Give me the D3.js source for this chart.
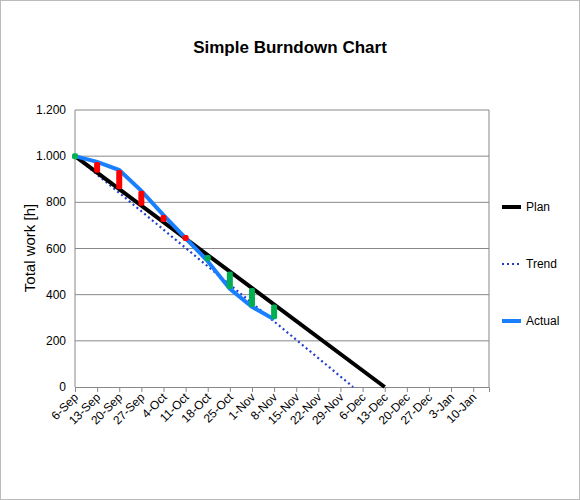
<!DOCTYPE html><html><head><meta charset="utf-8"><script src="https://cdn.jsdelivr.net/npm/d3@7"></script>
<style>body{margin:0;background:#fff}text{font-family:Arial,"Liberation Sans",sans-serif}</style></head><body><svg width="580" height="500"></svg><script>
const tickLabels=["6-Sep","13-Sep","20-Sep","27-Sep","4-Oct","11-Oct","18-Oct","25-Oct","1-Nov","8-Nov","15-Nov","22-Nov","29-Nov","6-Dec","13-Dec","20-Dec","27-Dec","3-Jan","10-Jan"];
const actualDates=["6-Sep","13-Sep","20-Sep","27-Sep","4-Oct","11-Oct","18-Oct","25-Oct","1-Nov","8-Nov"];
const actualValues=[1000,975,940,850,745,645,545,425,347,293];
const planDates=["6-Sep","13-Dec"],planValues=[1000,0];
const trendDates=["6-Sep","3-Dec"],trendValues=[1000,0];
const yTicks=[0,200,400,600,800,1000,1200];
const parse=s=>{const [d,m]=s.split("-");const mi=["Sep","Oct","Nov","Dec","Jan"].indexOf(m);return new Date(mi==4?2011:2010,[8,9,10,11,0][mi],+d);};
const svg=d3.select("svg");
svg.append("rect").attr("x",0.5).attr("y",0.5).attr("width",579).attr("height",499).attr("fill","none").attr("stroke","#bbb");
const x=d3.scaleTime().domain([parse("6-Sep"),parse("15-Jan")]).range([75,489]);
const y=d3.scaleLinear().domain([0,1200]).range([387,110]);
const yl=v=>v>=1000?(""+v).replace(/(\d)(\d{3})$/,"$1.$2"):""+v;
yTicks.forEach(v=>{if(v>0)svg.append("line").attr("x1",75).attr("x2",489).attr("y1",y(v)).attr("y2",y(v)).attr("stroke","#888");
 svg.append("text").attr("x",66).attr("y",y(v)+4).attr("text-anchor","end").attr("font-size",12).text(yl(v));});
svg.append("line").attr("x1",489).attr("x2",489).attr("y1",110).attr("y2",387).attr("stroke","#888");
svg.append("line").attr("x1",75).attr("x2",75).attr("y1",110).attr("y2",387).attr("stroke","#888");
const xa=svg.append("g").attr("transform","translate(0,387)");
xa.call(d3.axisBottom(x).ticks(d3.timeDay.every(1)).tickSize(3).tickFormat(""));
xa.call(d3.axisBottom(x).tickValues(tickLabels.map(parse)).tickSize(5).tickFormat(""));
xa.selectAll("path,line").attr("stroke","#888");
tickLabels.forEach(t=>svg.append("text").attr("transform",`translate(${x(parse(t))+4},${398}) rotate(-45)`).attr("text-anchor","end").attr("font-size",12).text(t));
const line=d3.line().x(d=>x(parse(d[0]))).y(d=>y(d[1]));
const planAt=d=>{const t0=+parse(planDates[0]),t1=+parse(planDates[1]);return planValues[0]+(planValues[1]-planValues[0])*(+parse(d)-t0)/(t1-t0);};
svg.append("path").attr("d",line(trendDates.map((d,i)=>[d,trendValues[i]]))).attr("stroke","#1f3fd0").attr("stroke-width",2.2).attr("stroke-dasharray","2,3").attr("fill","none");
svg.append("path").attr("d",line(planDates.map((d,i)=>[d,planValues[i]]))).attr("stroke","#000").attr("stroke-width",4).attr("fill","none");
svg.append("path").attr("d",line(actualDates.map((d,i)=>[d,actualValues[i]]))).attr("stroke","#1a7fff").attr("stroke-width",4).attr("fill","none");
actualDates.forEach((d,i)=>{const a=actualValues[i],p=planAt(d);const dd=Math.abs(y(a)-y(p));const h=Math.max(dd,6);
 svg.append("rect").attr("x",x(parse(d))-3).attr("y",Math.min(y(a),y(p))-(dd<6?3:0)).attr("width",6).attr("height",h).attr("rx",2)
 .attr("fill",a>p+3?"#ff0000":a<p-3?"#00b050":(i==0?"#00b050":"#ff0000"));});
svg.append("text").attr("x",290).attr("y",53).attr("text-anchor","middle").attr("font-size",17).attr("font-weight","bold").text("Simple Burndown Chart");
svg.append("text").attr("transform","translate(35,248) rotate(-90)").attr("text-anchor","middle").attr("font-size",15).text("Total work [h]");
const leg=[["Plan",207,"#000",4,null],["Trend",264,"#1f3fd0",2.2,"2,3"],["Actual",321,"#1a7fff",4,null]];
leg.forEach(l=>{svg.append("line").attr("x1",502).attr("x2",521).attr("y1",l[1]).attr("y2",l[1]).attr("stroke",l[2]).attr("stroke-width",l[3]).attr("stroke-dasharray",l[4]);
 svg.append("text").attr("x",526).attr("y",l[1]+4).attr("font-size",12).text(l[0]);});
</script></body></html>
